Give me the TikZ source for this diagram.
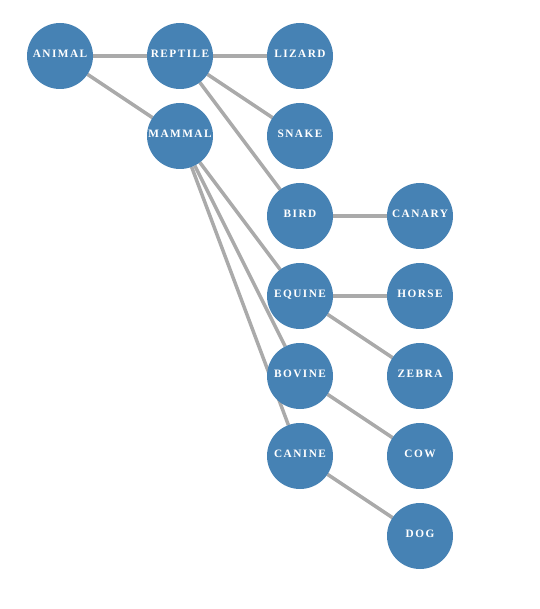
\documentclass[tikz,border=0pt]{standalone}
\usepackage{fontspec}
\newfontfamily\taxonfont[LetterSpace=13]{Liberation Serif}
\usepackage{xcolor}
\usetikzlibrary{positioning,backgrounds}
\definecolor{steelblue}{HTML}{4682B4}
\definecolor{linkgray}{HTML}{AAAAAA}
\def\colsep{120}
\def\rowsep{80}

\begin{document}
\begin{tikzpicture}[x=1pt,y=-1pt]
    \tikzstyle{taxon}=[circle,fill=steelblue,minimum size=66pt,inner sep=0pt,outer sep=0pt,
        text=white,font={\taxonfont\bfseries\fontsize{11.3}{13}\selectfont},text height=7.5pt,text depth=5.4pt]
    \tikzstyle{link}=[draw=linkgray,line width=3.5pt]
    \useasboundingbox (0,0) rectangle (539,609);

    % Draw the taxon nodes
    \foreach \name / \col / \row in {ANIMAL/0/0,REPTILE/1/0,LIZARD/2/0,MAMMAL/1/1,SNAKE/2/1,
                                     BIRD/2/2,CANARY/3/2,EQUINE/2/3,HORSE/3/3,BOVINE/2/4,
                                     ZEBRA/3/4,CANINE/2/5,COW/3/5,DOG/3/6}
        \node[taxon] (\name) at ({60+\col*\colsep},{56+\row*\rowsep}) {\name};

    % Connect every parent with its children, behind the nodes
    \begin{pgfonlayer}{background}
    \foreach \source / \dest in {ANIMAL/REPTILE,ANIMAL/MAMMAL,REPTILE/LIZARD,REPTILE/SNAKE,
                                 REPTILE/BIRD,MAMMAL/EQUINE,MAMMAL/BOVINE,MAMMAL/CANINE,
                                 BIRD/CANARY,EQUINE/HORSE,EQUINE/ZEBRA,BOVINE/COW,CANINE/DOG}
        \path[link] (\source) edge[link] (\dest);
    \end{pgfonlayer}

\end{tikzpicture}
\end{document}
